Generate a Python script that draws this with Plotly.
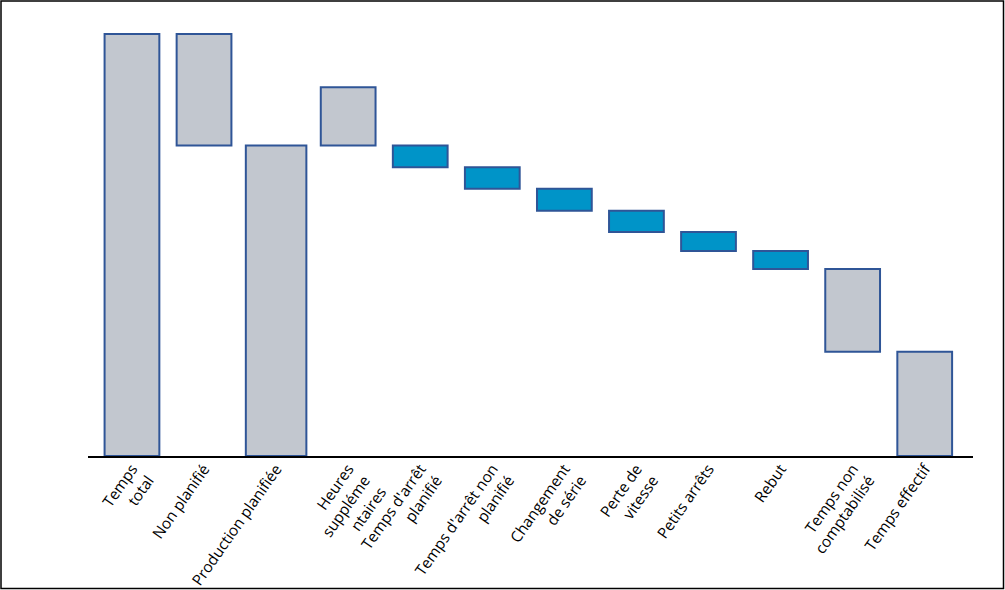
import plotly.graph_objects as go

categories = [
    "Temps<br>total", "Non planifié", "Production planifiée",
    "Heures<br>suppléme<br>ntaires", "Temps d'arrêt<br>planifié",
    "Temps d'arrêt non<br>planifié", "Changement<br>de série",
    "Perte de<br>vitesse", "Petits arrêts", "Rebut",
    "Temps non<br>comptabilisé", "Temps effectif",
]
values = [100, 26.4, 73.6, 13.8, 5.2, 5.1, 5.2, 5.0, 4.5, 4.3, 19.6, 24.7]
kinds = ["total", "down", "total", "extra", "down", "down", "down",
         "down", "down", "down", "down", "total"]

GRAY = "#C2C7CF"
BLUE = "#0094C8"
EDGE = "#2F5597"

bases = []
level = 0.0
for v, k in zip(values, kinds):
    if k == "total":
        bases.append(0.0)
        level = v
    elif k == "down":
        level -= v
        bases.append(level)
    else:
        bases.append(level)

colors = [BLUE if 4 <= i <= 9 else GRAY for i in range(len(values))]
widths = [0.76] * len(values)
widths[2] = 0.84

fig = go.Figure(go.Bar(
    x=list(range(len(categories))), y=values, base=bases, width=widths,
    marker=dict(color=colors, line=dict(color=EDGE, width=2)),
    hoverinfo="skip",
))

L, R, T, B = 88, 32, 20, 134
W, H = 1005, 590
pw, ph = W - L - R, H - T - B

fig.add_shape(type="rect", xref="paper", yref="paper",
              x0=(-L + 1) / pw, x1=1 + (R - 1.5) / pw,
              y0=-(B - 1.5) / ph, y1=1 + (T - 1) / ph,
              line=dict(color="black", width=1.5), fillcolor="rgba(0,0,0,0)",
              layer="above")

fig.update_layout(
    width=W, height=H,
    margin=dict(l=L, r=R, t=T, b=B, autoexpand=False),
    plot_bgcolor="white", paper_bgcolor="white",
    showlegend=False,
    font=dict(family="Open Sans", size=14, color="black"),
    xaxis=dict(
        tickmode="array", tickvals=list(range(len(categories))),
        ticktext=categories, tickangle=-55, automargin=False,
        ticklabelstandoff=-4,
        range=[-0.61, 11.67], showline=True, linecolor="black", linewidth=2,
        showgrid=False, zeroline=False, ticks="",
        tickfont=dict(family="Open Sans", size=15.3, color="black"),
    ),
    yaxis=dict(range=[0, 436 / 4.22], visible=False, showgrid=False,
               automargin=False),
)

fig.write_html("out.html")
